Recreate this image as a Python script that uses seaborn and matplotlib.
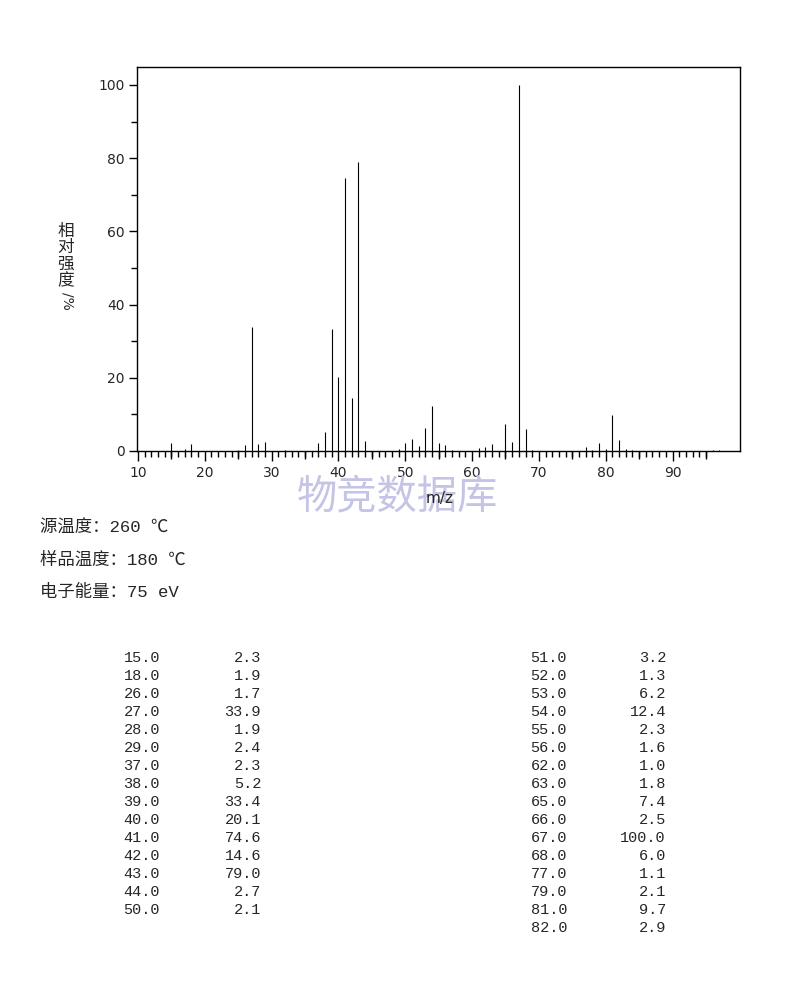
import matplotlib
matplotlib.use("Agg")
import matplotlib.pyplot as plt
import seaborn as sns

sns.set_theme(style="white")
plt.rcParams['font.family'] = ['Noto Sans CJK SC', 'DejaVu Sans']

# peaks (main peaks from the table + small ones seen on the plot)
mz = [15, 17, 18, 25, 26, 27, 28, 29, 32, 37, 38, 39, 40, 41, 42, 43, 44,
      49, 50, 51, 52, 53, 54, 55, 56, 57, 61, 62, 63, 65, 66, 67, 68, 69,
      77, 78, 79, 80, 81, 82, 83, 84, 96, 97]
intensity = [2.3, 0.6, 1.9, 0.4, 1.7, 33.9, 1.9, 2.4, 0.4, 2.3, 5.2, 33.4, 20.1, 74.6, 14.6, 79.0, 2.7,
             0.5, 2.1, 3.2, 1.3, 6.2, 12.4, 2.3, 1.6, 0.4, 0.7, 1.0, 1.8, 7.4, 2.5, 100.0, 6.0, 0.4,
             1.1, 0.3, 2.1, 0.6, 9.7, 2.9, 0.5, 0.3, 0.3, 0.3]

# table below the chart
table_left_mz = ["15.0", "18.0", "26.0", "27.0", "28.0", "29.0", "37.0", "38.0",
                 "39.0", "40.0", "41.0", "42.0", "43.0", "44.0", "50.0"]
table_left_int = ["2.3", "1.9", "1.7", "33.9", "1.9", "2.4", "2.3", "5.2",
                  "33.4", "20.1", "74.6", "14.6", "79.0", "2.7", "2.1"]
table_right_mz = ["51.0", "52.0", "53.0", "54.0", "55.0", "56.0", "62.0", "63.0",
                  "65.0", "66.0", "67.0", "68.0", "77.0", "79.0", "81.0", "82.0"]
table_right_int = ["3.2", "1.3", "6.2", "12.4", "2.3", "1.6", "1.0", "1.8",
                   "7.4", "2.5", "100.0", "6.0", "1.1", "2.1", "9.7", "2.9"]

conditions = ["源温度：260 ℃", "样品温度：180 ℃", "电子能量：75 eV"]

W, H = 794, 992
fig = plt.figure(figsize=(W / 100, H / 100), dpi=100)
ax = fig.add_axes([137 / W, 1 - 451 / H, (740 - 137) / W, (451 - 67) / H])

ax.vlines(mz, 0, intensity, colors="black", linewidth=0.8)

ax.set_xlim(9.85, 100.1)
ax.set_ylim(0, 104.9)

for s in ax.spines.values():
    s.set_color("black")
    s.set_linewidth(1.0)

ax.set_xticks(range(10, 100, 10))
ax.set_xticks(range(11, 96), minor=True)
ax.set_yticks(range(0, 101, 20))
ax.set_yticks(range(10, 100, 20), minor=True)
ax.tick_params(axis="x", which="major", direction="out", length=7.5, width=1.0,
               color="black", labelsize=10, pad=3, bottom=True)
ax.tick_params(axis="x", which="minor", direction="out", length=4, width=1.0,
               color="black", bottom=True)
ax.tick_params(axis="y", which="major", direction="out", length=6, width=1.0,
               color="black", labelsize=10, pad=3, left=True)
ax.tick_params(axis="y", which="minor", direction="out", length=4, width=1.0,
               color="black", left=True)
for lab in ax.get_xticklabels() + ax.get_yticklabels():
    lab.set_family("DejaVu Sans")

# medium ticks at the fives
sec = ax.secondary_xaxis("bottom")
sec.set_xticks(range(15, 100, 10))
sec.tick_params(direction="out", length=5.5, width=1.0, color="black", labelbottom=False)
sec.spines["bottom"].set_visible(False)

ax.grid(False)

# watermark
fig.text(397 / W, 1 - 497 / H, "物竞数据库", color="#c4c4e6", fontsize=29,
         ha="center", va="center", zorder=0)
fig.text(440 / W, 1 - 498 / H, "m/z", fontsize=11, ha="center", va="center",
         family="DejaVu Sans", zorder=5)

# y label, written vertically
fig.text(66 / W, 1 - 256 / H, "相\n对\n强\n度", fontsize=12, ha="center", va="center",
         linespacing=0.95)
fig.text(67 / W, 1 - 301 / H, "/%", fontsize=10, ha="center", va="center",
         rotation=-90, family="DejaVu Sans")

for i, t in enumerate(conditions):
    fig.text(40 / W, 1 - (528 + i * 32) / H, t, fontsize=12.5, ha="left", va="center",
             family=["Liberation Mono", "Noto Sans CJK SC", "DejaVu Sans"])

mono = "Liberation Mono"
for i in range(len(table_left_mz)):
    y = 1 - (658 + i * 18) / H
    fig.text(160 / W, y, table_left_mz[i], family=mono, fontsize=11, ha="right", va="center")
    fig.text(261 / W, y, table_left_int[i], family=mono, fontsize=11, ha="right", va="center")
for i in range(len(table_right_mz)):
    y = 1 - (658 + i * 18) / H
    fig.text(567 / W, y, table_right_mz[i], family=mono, fontsize=11, ha="right", va="center")
    fig.text(666 / W, y, table_right_int[i], family=mono, fontsize=11, ha="right", va="center")

fig.savefig("out.png", dpi=100, facecolor="white")
